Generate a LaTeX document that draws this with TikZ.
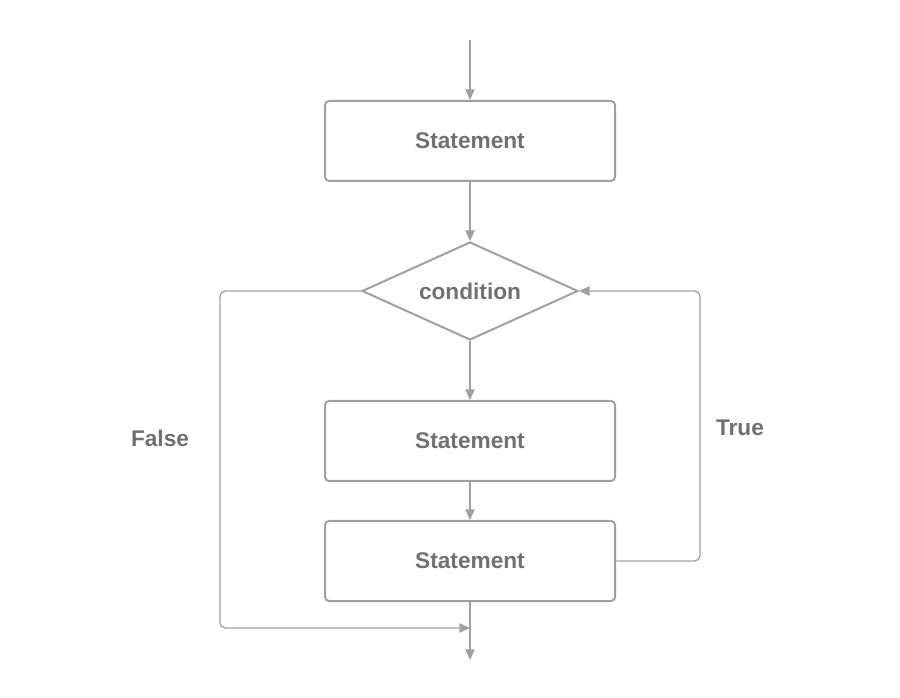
\documentclass[tikz,border=0pt]{standalone}
\usepackage{fontspec}
\setmainfont{Liberation Sans}
\usepackage{tikz}
\usetikzlibrary{shapes.geometric,arrows.meta}
\definecolor{linegray}{RGB}{160,160,160}
\definecolor{textgray}{RGB}{112,112,112}
\tikzset{
  stmt/.style={draw=linegray,line width=1.5pt,rounded corners=3pt,minimum width=217.5pt,minimum height=60pt,inner sep=0pt,text=textgray,font=\fontsize{17}{20}\selectfont\bfseries},
  cond/.style={draw=linegray,line width=1.5pt,diamond,aspect=2.2,minimum width=162pt,minimum height=73.5pt,inner sep=0pt,text=textgray,font=\fontsize{17}{20}\selectfont\bfseries},
  flow/.style={draw=linegray,line width=1pt,-{Triangle[length=8pt,width=7pt]}},
  lbl/.style={text=textgray,font=\fontsize{17}{20}\selectfont\bfseries}
}
\begin{document}
\begin{tikzpicture}[x=0.75pt,y=0.75pt,yscale=-1]
\useasboundingbox (0,0) rectangle (900,698);

% Boxes
\node [stmt] (first) at (470,141) {Statement};
\node [cond] (test) at (470,291) {condition};
\node [stmt] (second) at (470,441) {Statement};
\node [stmt] (third) at (470,561) {Statement};
\coordinate (entry) at (470,40);
\coordinate (exit) at (470,660);
\coordinate (join) at (470,628);

% Connectors
\draw [flow] (entry) -- (first);
\draw [flow] (first) -- (test);
\draw [flow] (test) -- (second);
\draw [flow] (second) -- (third);
\draw [flow] (third) -- (exit);
\draw [flow,rounded corners=4pt] (test.west) -- (220,291) -- (220,628) -- (join);
\draw [flow,rounded corners=4pt] (third.east) -- (700,561) -- (700,291) -- (test.east);

% Labels
\node [lbl] (falselbl) at (160,438) {False};
\node [lbl] (truelbl) at (740,428) {True};
\end{tikzpicture}
\end{document}
